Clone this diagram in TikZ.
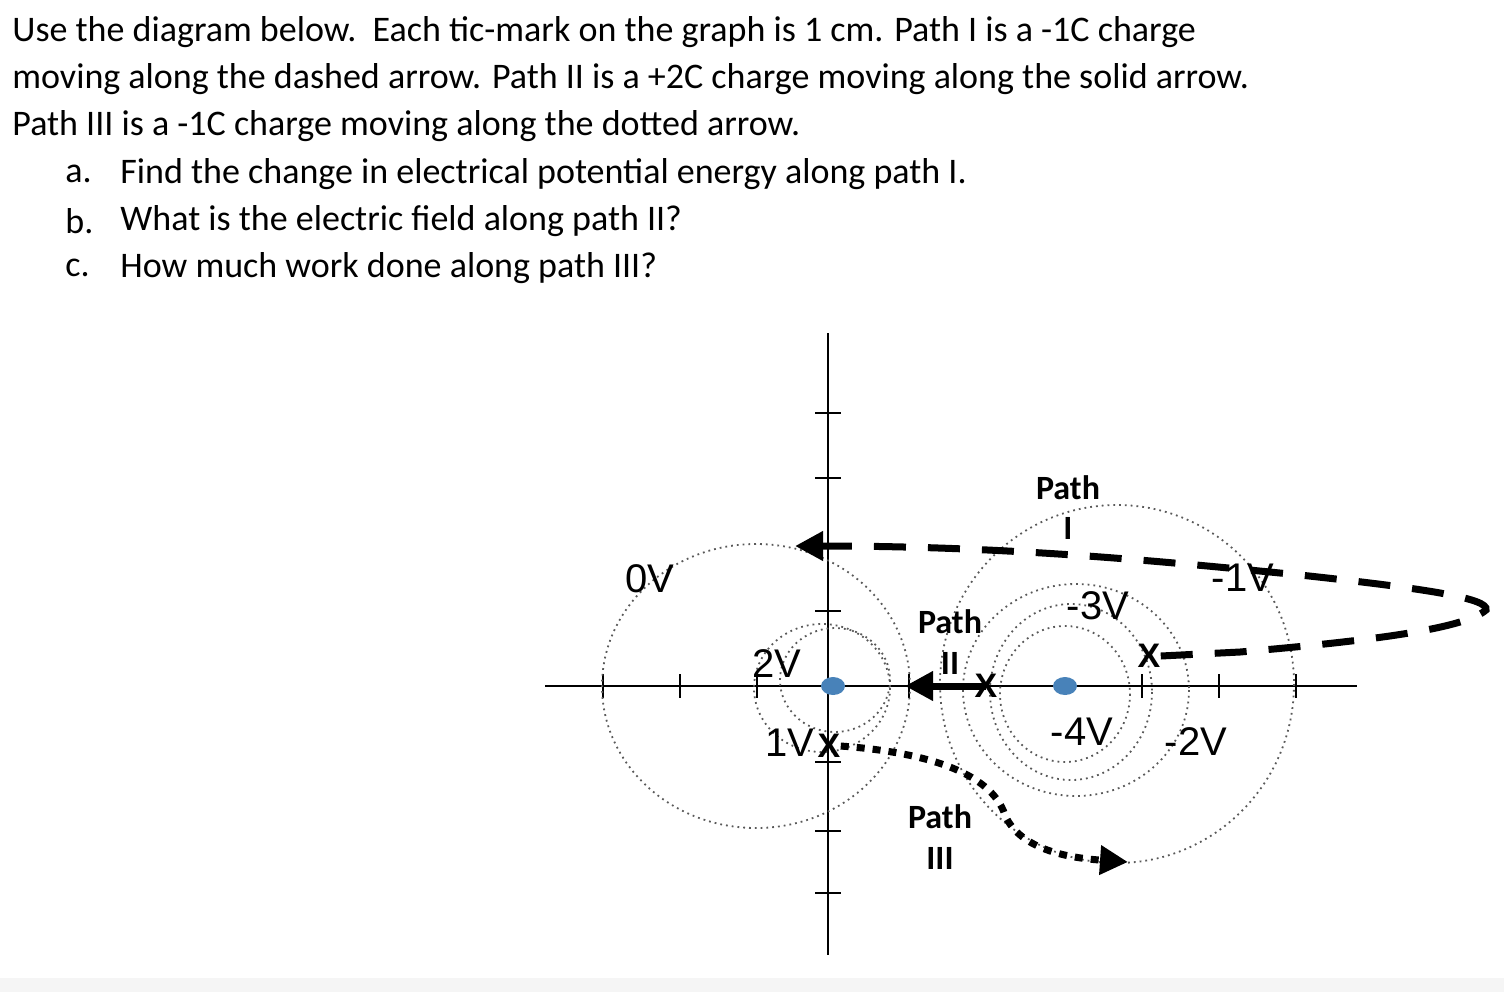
\documentclass[tikz,border=0pt]{standalone}
\usepackage{fontspec}
\setmainfont{Carlito}
\newfontfamily\lab{Liberation Sans}
\usetikzlibrary{arrows.meta}
\definecolor{dotblue}{RGB}{72,130,185}
\begin{document}
\begin{tikzpicture}[x=0.5pt,y=-0.5pt,
  qtext/.style={anchor=west,inner sep=0,font=\fontsize{18}{21}\selectfont},
  vlab/.style={font=\lab\fontsize{20}{22}\selectfont,inner sep=0},
  plab/.style={font=\bfseries\fontsize{17}{20}\selectfont,inner sep=0},
  equi/.style={dotted,line width=0.9pt,gray!70!black},
  tick/.style={line width=0.7pt},
  xmark/.style={font=\lab\bfseries\fontsize{17}{18}\selectfont,inner sep=0}]
\useasboundingbox (0,0) rectangle (1504,992);
\fill[gray!8] (0,978) rectangle (1504,992);
% text
\node[qtext] (l1) at (12,32) {Use the diagram below.\ \ Each tic-mark on the graph is 1 cm. Path I is a -1C charge};
\node[qtext] (l2) at (12,79) {moving along the dashed arrow. Path II is a +2C charge moving along the solid arrow.};
\node[qtext] (l3) at (12,126) {Path III is a -1C charge moving along the dotted arrow.};
\node[qtext] (a) at (65,174) {a.};
\node[qtext] (at) at (120,174) {Find the change in electrical potential energy along path I.};
\node[qtext] (b) at (65,221) {b.};
\node[qtext] (bt) at (120,221) {What is the electric field along path II?};
\node[qtext] (c) at (65,268) {c.};
\node[qtext] (ct) at (120,268) {How much work done along path III?};
% axes
\coordinate (xl) at (545,686); \coordinate (xr) at (1357,686);
\coordinate (yt) at (828,333); \coordinate (yb) at (828,955);
\draw[line width=0.9pt] (xl) -- (xr);
\draw[line width=0.9pt] (yt) -- (yb);
\foreach \x in {603,680,757,909,1142,1219,1296}
  \draw[tick] (\x,674) -- (\x,698);
\foreach \y in {413,478,548,611,762,831,893}
  \draw[tick] (815,\y) -- (841,\y);
% equipotentials
\draw[equi] (756,686) ellipse [x radius=154,y radius=142];
\draw[equi] (822,688) ellipse [x radius=68,y radius=64];
\draw[equi] (835,680) ellipse [x radius=55,y radius=52];
\draw[equi] (1117,684) ellipse [x radius=177,y radius=179];
\draw[equi] (1076,690) ellipse [x radius=113,y radius=106];
\draw[equi] (1071,692) ellipse [x radius=81,y radius=88];
\draw[equi] (1065,694) ellipse [x radius=65,y radius=68];
% charges
\fill[dotblue] (833,686) ellipse [x radius=12,y radius=9];
\fill[dotblue] (1065,686) ellipse [x radius=12,y radius=9];
% labels
\node[vlab] (v0) at (650,579) {0V};
\node[vlab] (v2) at (777,664) {2V};
\node[vlab] (v1) at (790,743) {1V};
\node[vlab] (v3) at (1098,606) {-3V};
\node[vlab] (v4) at (1082,732) {-4V};
\node[vlab] (v2n) at (1196,742) {-2V};
\node[vlab] (v1n) at (1243,578) {-1V};
\node[plab] (p1) at (1068,488) {Path};
\node[plab] (p1n) at (1068,528) {I};
\node[plab] (p2) at (950,622) {Path};
\node[plab] (p2n) at (950,663) {II};
\node[plab] (p3) at (940,817) {Path};
\node[plab] (p3n) at (940,858) {III};
% X marks
\node[xmark] (x1) at (1149,656) {X};
\node[xmark] (x2) at (986,686) {X};
\node[xmark] (x3) at (829,746) {X};
\coordinate (e1) at (795,546);
\coordinate (e2) at (905,686);
\coordinate (e3) at (1128,862);
% path I
\draw[line width=3.5pt,dash pattern=on 16pt off 11pt,-{Triangle[length=14pt,width=14pt]}]
  (x1.east) -- (1240,652) .. controls (1380,640) and (1465,628) .. (1486,610)
  .. controls (1490,598) and (1420,588) .. (1300,575)
  .. controls (1150,560) and (1000,546) .. (e1);
% path II
\draw[line width=3.5pt,-{Triangle[length=14pt,width=14pt]}] (x2.center) -- (e2);
% path III
\draw[line width=3.5pt,dash pattern=on 4pt off 4pt,-{Triangle[length=14pt,width=14pt]}]
  (x3.east) .. controls (920,752) and (990,770) .. (1005,815)
  .. controls (1020,850) and (1070,858) .. (e3);
\end{tikzpicture}
\end{document}
